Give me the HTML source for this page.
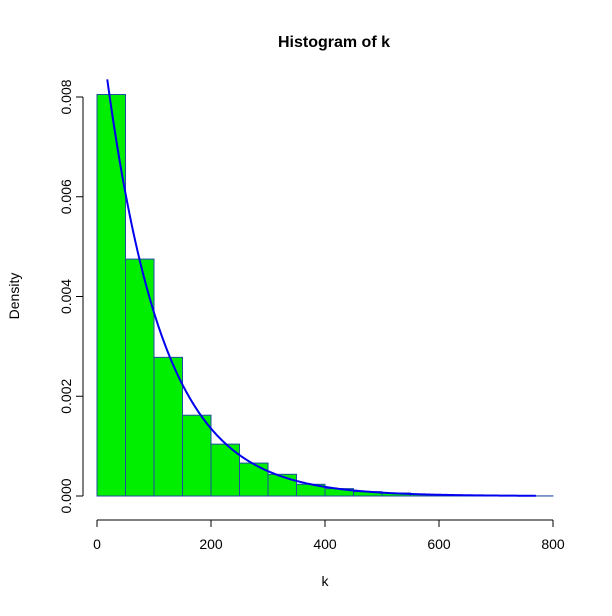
<!DOCTYPE html>
<html><head><meta charset="utf-8"><style>body{margin:0;background:#fff}text{font-family:"Liberation Sans",Arial,sans-serif;fill:#000}</style></head>
<body>
<svg id="c" width="612" height="611" xmlns="http://www.w3.org/2000/svg">
<text x="334" y="47" text-anchor="middle" font-size="16" font-weight="bold">Histogram of k</text>
<text x="325" y="586" text-anchor="middle" font-size="14">k</text>
<text transform="translate(19,296) rotate(-90)" text-anchor="middle" font-size="14">Density</text>
<g id="bars"></g><g id="axes"></g>
</svg>
<script>
const binStarts=[0,50,100,150,200,250,300,350,400,450,500,550,600,650,700,750];
const densities=[0.00805,0.00475,0.00278,0.00162,0.00104,0.00066,0.000435,0.000235,0.000148,0.000087,0.00006,0.00003,0.000012,0.000004,0.000003,0.000002];
const binWidth=50;
const rate=0.01;
const xTicks=[0,200,400,600,800];
const yTicks=[0,0.002,0.004,0.006,0.008];
const yTickLabels=["0.000","0.002","0.004","0.006","0.008"];
const NS="http://www.w3.org/2000/svg";
const sx=v=>97+v*456/800, sy=v=>496-v*399/0.008;
const svg=document.getElementById('c'),bars=document.getElementById('bars'),axes=document.getElementById('axes');
function mk(t,a,p){const e=document.createElementNS(NS,t);for(const k in a)e.setAttribute(k,a[k]);p.appendChild(e);return e;}
binStarts.forEach((b,i)=>{
 const r=mk('rect',{x:sx(b),y:sy(densities[i]),width:sx(b+binWidth)-sx(b),height:sy(0)-sy(densities[i]),fill:'#00ee00',stroke:'#1f4ea0','stroke-width':1},bars);
 
 
});
let d='';for(let x=18;x<=770;x+=2){d+=(x==18?'M':'L')+sx(x).toFixed(2)+','+sy(rate*Math.exp(-rate*x)).toFixed(2);}
const cp=mk('path',{d:d,fill:'none',stroke:'#0000ee','stroke-width':2},svg);


mk('line',{x1:sx(0),x2:sx(800),y1:520,y2:520,stroke:'#000'},axes);
xTicks.forEach(t=>{mk('line',{x1:sx(t),x2:sx(t),y1:520,y2:527,stroke:'#000'},axes);
 const tx=mk('text',{x:sx(t),y:549,'text-anchor':'middle','font-size':14},axes);tx.textContent=t;
 
 });
mk('line',{x1:83,x2:83,y1:sy(0),y2:sy(0.008),stroke:'#000'},axes);
yTicks.forEach((t,i)=>{mk('line',{x1:76,x2:83,y1:sy(t),y2:sy(t),stroke:'#000'},axes);
 const tx=mk('text',{transform:`translate(71,${sy(t)}) rotate(-90)`,'text-anchor':'middle','font-size':14},axes);tx.textContent=yTickLabels[i];
 
 });
</script>
</body></html>
